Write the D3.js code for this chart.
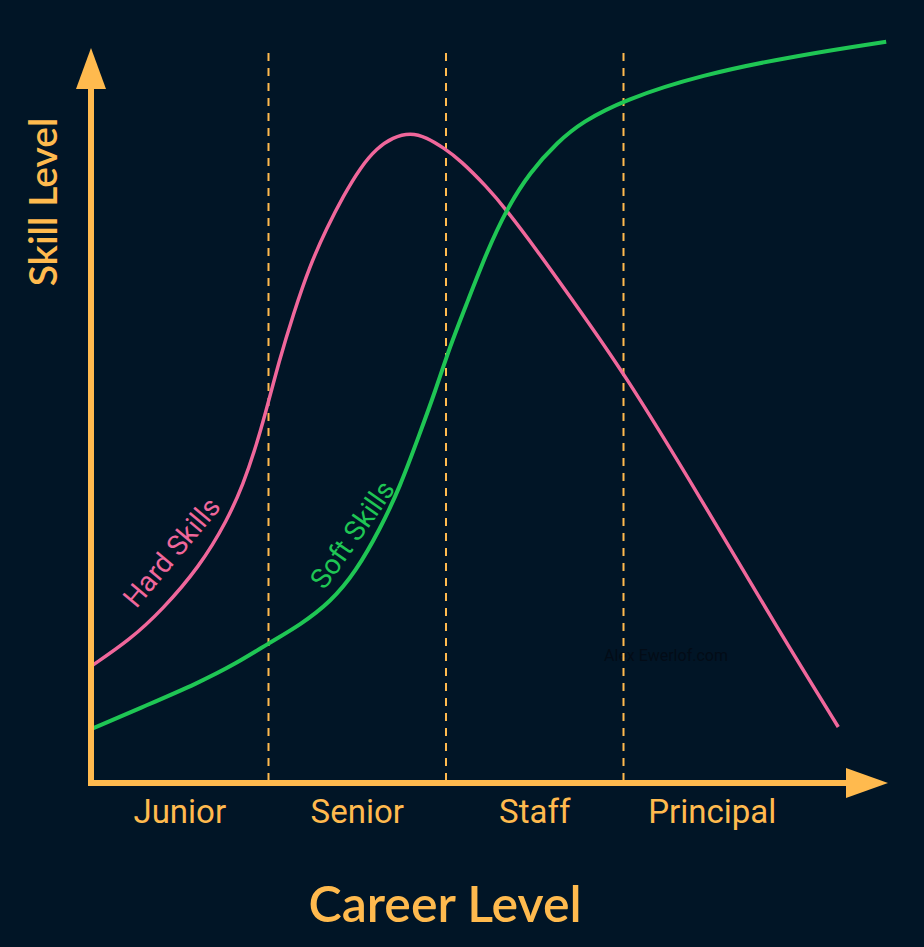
<!DOCTYPE html>
<html>
<head>
<meta charset="utf-8">
<script src="https://cdn.jsdelivr.net/npm/d3@7"></script>
<style>
  html, body { margin: 0; padding: 0; background: #011526; }
  svg { display: block; }
</style>
</head>
<body>
<svg id="chart" width="924" height="947"></svg>
<script>
// ---- data ----
const categories = ["Junior", "Senior", "Staff", "Principal"];
const axisTitles = { x: "Career Level", y: "Skill Level" };
// career position (0 = start, 1 unit per level) vs skill level (0-100)
const hardX = [0, 0.22, 0.40, 0.61, 0.77, 0.86, 0.92, 0.98, 1.06, 1.14, 1.23, 1.33, 1.42, 1.52, 1.61, 1.70, 1.80, 1.89, 1.99, 2.08, 2.23, 2.34, 2.51, 2.70, 3.00, 3.43, 3.88, 4.21];
const hardY = [15.5, 19.1, 23.1, 28.9, 35.3, 40.3, 44.5, 49.4, 56.8, 63.1, 69.5, 74.8, 79.0, 83.0, 85.5, 87.0, 87.6, 87.0, 85.5, 83.9, 80.3, 77.2, 71.8, 65.4, 55.3, 38.4, 20.1, 7.3];
const softX = [0, 0.32, 0.60, 0.82, 1.00, 1.18, 1.35, 1.49, 1.63, 1.74, 1.85, 1.94, 2.02, 2.12, 2.23, 2.34, 2.47, 2.63, 2.77, 3.00, 3.43, 3.99, 4.48];
const softY = [7.0, 10.3, 13.2, 15.9, 18.6, 21.1, 24.2, 28.2, 34.1, 39.7, 46.8, 52.7, 58.6, 64.7, 71.5, 77.2, 82.2, 86.4, 89.1, 92.0, 95.4, 98.1, 99.9];
const seriesNames = ["Hard Skills", "Soft Skills"];
const labelPos = [ { x: 0.255, y: 23.2, angle: -50 }, { x: 1.316, y: 25.7, angle: -55 } ];
const watermark = "Alex Ewerlof.com";

// ---- styles ----
const ORANGE = "#FFBA4E", PINK = "#F0679B", GREEN = "#1FC654";

const svg = d3.select("#chart");
const x0 = 91, x1 = 801, yBase = 781, yTop = 41;

const x = d3.scaleLinear().domain([0, categories.length]).range([x0, x1]);
const xBand = d3.scaleBand().domain(categories).range([x0, x1]).padding(0);
const y = d3.scaleLinear().domain([0, 100]).range([yBase, yTop]);

// watermark
svg.append("text")
  .attr("x", 666).attr("y", 661)
  .attr("text-anchor", "middle")
  .attr("font-family", "Roboto, sans-serif")
  .attr("font-size", 16)
  .attr("fill", "#030c17")
  .text(watermark);

// dashed separators at band boundaries
svg.append("g").selectAll("line")
  .data(categories.slice(1))
  .join("line")
  .attr("x1", d => xBand(d)).attr("x2", d => xBand(d))
  .attr("y1", 53).attr("y2", yBase)
  .attr("stroke", ORANGE).attr("stroke-width", 2)
  .attr("stroke-dasharray", "8,7");

// curves
const line = d3.line().x(d => x(d[0])).y(d => y(d[1])).curve(d3.curveBasis);
const hard = hardX.map((v, i) => [v, hardY[i]]);
const soft = softX.map((v, i) => [v, softY[i]]);

svg.append("path").datum(hard).attr("d", line)
  .attr("fill", "none").attr("stroke", PINK).attr("stroke-width", 3.5);
svg.append("path").datum(soft).attr("d", line)
  .attr("fill", "none").attr("stroke", GREEN).attr("stroke-width", 4);

// series labels
[PINK, GREEN].forEach((c, i) => {
  const p = labelPos[i];
  svg.append("text")
    .attr("transform", `translate(${x(p.x)},${y(p.y)}) rotate(${p.angle})`)
    .attr("font-family", "Roboto, sans-serif")
    .attr("font-size", 28)
    .attr("fill", c)
    .text(seriesNames[i]);
});

// axes lines with arrows
svg.append("line").attr("x1", x0).attr("x2", x0).attr("y1", 786).attr("y2", 86)
  .attr("stroke", ORANGE).attr("stroke-width", 6);
svg.append("path").attr("d", "M91,48 L76,89 L106,89 Z").attr("fill", ORANGE);
svg.append("line").attr("x1", 88).attr("x2", 848).attr("y1", 783).attr("y2", 783)
  .attr("stroke", ORANGE).attr("stroke-width", 6);
svg.append("path").attr("d", "M888,783 L846,768 L846,798 Z").attr("fill", ORANGE);

// category axis
const ax = svg.append("g").attr("transform", `translate(0,${yBase})`)
  .call(d3.axisBottom(xBand).tickSize(0).tickPadding(0));
ax.select(".domain").remove();
ax.selectAll("text")
  .attr("y", 42).attr("dy", null)
  .attr("font-family", "Roboto, sans-serif")
  .attr("font-size", 33)
  .attr("fill", ORANGE);

// axis titles
svg.append("text")
  .attr("x", 445).attr("y", 922)
  .attr("text-anchor", "middle")
  .attr("font-family", "Lato, sans-serif")
  .attr("font-weight", 600)
  .attr("font-size", 50)
  .attr("fill", ORANGE)
  .text(axisTitles.x);
svg.append("text")
  .attr("transform", "translate(57,202) rotate(-90)")
  .attr("text-anchor", "middle")
  .attr("font-family", "Lato, sans-serif")
  .attr("font-weight", 600)
  .attr("font-size", 39)
  .attr("fill", ORANGE)
  .text(axisTitles.y);
</script>
</body>
</html>
